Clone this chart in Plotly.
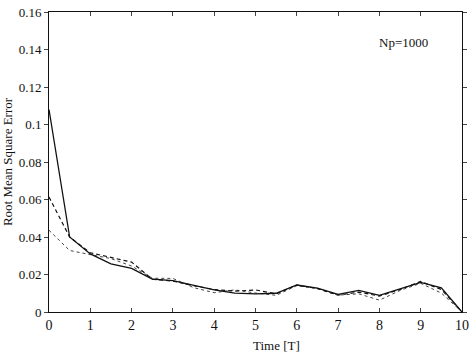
import plotly.graph_objects as go

time = [0, 0.5, 1, 1.5, 2, 2.5, 3, 3.5, 4, 4.5, 5, 5.5, 6, 6.5, 7, 7.5, 8, 8.5, 9, 9.5, 10]
rmse_solid = [0.108, 0.040, 0.031, 0.0257, 0.0233, 0.0175, 0.0167, 0.0143, 0.0118, 0.0101, 0.0097, 0.0100,
              0.0144, 0.0127, 0.0094, 0.0115, 0.0089, 0.0123, 0.0158, 0.0129, 0.0]
rmse_dashed = [0.0613, 0.040, 0.0316, 0.0292, 0.0266, 0.0175, 0.0165, 0.0140, 0.0120, 0.0111, 0.0118, 0.0097,
               0.0144, 0.0125, 0.0090, 0.0106, 0.0085, 0.0120, 0.0163, 0.0120, 0.0]
rmse_dotted = [0.0436, 0.0328, 0.0306, 0.0285, 0.0245, 0.0180, 0.0179, 0.0130, 0.0103, 0.0118, 0.0101, 0.0089,
               0.0140, 0.0125, 0.0090, 0.0097, 0.0063, 0.0115, 0.0153, 0.0101, 0.0]
y_ticks = [0, 0.02, 0.04, 0.06, 0.08, 0.1, 0.12, 0.14, 0.16]
y_tick_labels = ["0", "0.02", "0.04", "0.06", "0.08", "0.1", "0.12", "0.14", "0.16"]
x_ticks = list(range(0, 11))

font = "Liberation Serif"
fig = go.Figure()
fig.add_trace(go.Scatter(x=time, y=rmse_dotted, mode="lines",
                         line=dict(color="#444", width=1, dash="dot")))
fig.add_trace(go.Scatter(x=time, y=rmse_dashed, mode="lines",
                         line=dict(color="#111", width=1.2, dash="4px,3px")))
fig.add_trace(go.Scatter(x=time, y=rmse_solid, mode="lines",
                         line=dict(color="#111", width=1.3)))

fig.add_annotation(x=8.58, y=0.144, text="Np=1000", showarrow=False,
                   font=dict(family=font, size=13, color="#111"))
fig.add_annotation(x=0.55, xref="paper", y=0, yref="paper", yanchor="middle", yshift=-33,
                   text="Time [T]", showarrow=False,
                   font=dict(family=font, size=13, color="#111"))

fig.update_layout(
    width=474, height=353,
    margin=dict(l=49, r=8, t=5, b=41),
    paper_bgcolor="white", plot_bgcolor="white",
    showlegend=False,
    font=dict(family=font, color="#111"),
    xaxis=dict(range=[0, 10], tickvals=x_ticks, ticks="inside", ticklen=4,
               showline=True, linecolor="#111", linewidth=1, mirror="ticks",
               showgrid=False, zeroline=False, tickfont=dict(size=14, family=font),
               ticklabeloverflow="allow"),
    yaxis=dict(range=[0, 0.16], tickvals=y_ticks, ticktext=y_tick_labels, ticks="outside", ticklen=4,
               showline=True, linecolor="#111", linewidth=1, mirror="ticks",
               showgrid=False, zeroline=False, tickfont=dict(size=13, family=font),
               ticklabeloverflow="allow",
               title=dict(text="Root Mean Square Error", font=dict(size=13, family=font), standoff=4)),
)
fig.write_html("out.html")
